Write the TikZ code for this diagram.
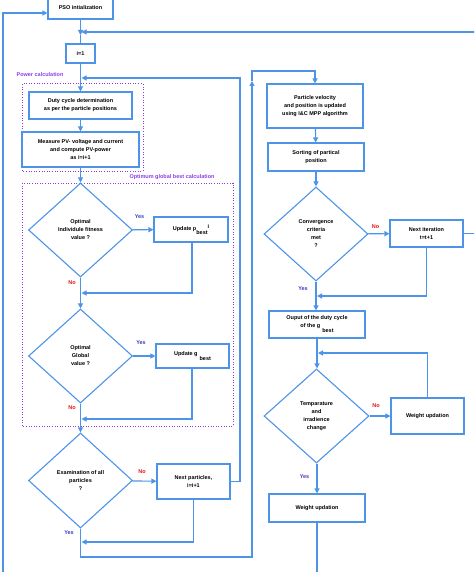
\documentclass[tikz,border=0pt]{standalone}
\usepackage{fontspec}
\setmainfont{Liberation Sans}
\usetikzlibrary{arrows.meta,shapes.geometric}
\definecolor{lb}{RGB}{77,148,232}
\definecolor{pur}{RGB}{140,60,230}
\definecolor{yb}{RGB}{60,60,200}
\definecolor{nr}{RGB}{230,20,20}
\tikzset{
 txt/.style={font=\fontsize{5.5}{8}\selectfont\bfseries},
 box/.style={txt,draw=lb,line width=1.1pt,rectangle,inner sep=1pt,align=center},
 dia/.style={txt,draw=lb,line width=1.1pt,diamond,inner sep=0pt,align=center,minimum width=104pt,minimum height=94pt},
 conn/.style={draw=lb,line width=1.1pt},
 arr/.style={conn,-{Triangle[length=5pt,width=5pt]}},
 grp/.style={draw=pur,line width=1pt,dash pattern=on 1pt off 1.6pt},
 yeslab/.style={txt,text=yb},
 nolab/.style={txt,text=nr},
 grplab/.style={txt,text=pur}
}
\begin{document}
\begin{tikzpicture}[x=1pt,y=-1pt]
\useasboundingbox (0,0) rectangle (474,572);
\clip (0,0) rectangle (474,572);

% group frames
\draw[grp] (22,84) rectangle (143,171);
\draw[grp] (22,183) rectangle (233,426);
\node[grplab] (lpow) at (40,75) {Power calculation};
\node[grplab] (lopt) at (172,177) {Optimum global best calculation};

% left column
\node[box,minimum width=65pt,minimum height=22pt] (pso) at (80.5,8) {PSO intialization};
\node[box,minimum width=29pt,minimum height=19pt] (i1) at (80.5,53.5) {i=1};
\node[box,minimum width=103pt,minimum height=27pt] (duty) at (80.5,105.5) {Duty cycle determination\\as per the particle positions};
\node[box,minimum width=117pt,minimum height=35pt] (meas) at (80.5,149.5) {Measure PV- voltage and current\\and compute PV-power\\as i=i+1};
\node[dia] (d1) at (80.5,230) {Optimal\\Individule fitness\\value ?};
\node[box,minimum width=74pt,minimum height=25pt] (up) at (191,229.5) {Update p\raisebox{-4pt}{best}\raisebox{1.5pt}{i}};
\node[dia] (d2) at (80.5,356) {Optimal\\Global\\value ?};
\node[box,minimum width=73pt,minimum height=24pt] (ug) at (192.5,356) {Update g\hspace{2pt}\raisebox{-5pt}{best}};
\node[dia,minimum height=95pt] (d3) at (80.5,480.5) {Examination of all\\particles\\?};
\node[box,minimum width=73pt,minimum height=35pt] (np) at (193.5,481.5) {Next particles,\\i=i+1};

% right column
\node[box,minimum width=96pt,minimum height=44pt] (pv) at (315,106) {Particle velocity\\and position is updated\\using I\&C MPP algorithm};
\node[box,minimum width=96pt,minimum height=28pt] (sort) at (316,157) {Sorting of partical\\position};
\node[dia] (conv) at (316,234) {Convergence\\criteria\\met\\?};
\node[box,minimum width=73pt,minimum height=27pt] (ni) at (426.5,233.5) {Next iteration\\t=t+1};
\node[box,minimum width=96pt,minimum height=27pt] (out) at (317,324.5) {Ouput of the duty cycle\\of the g\hspace{2pt}\raisebox{-5pt}{best}};
\node[dia,minimum width=105pt] (temp) at (316.5,416) {Temparature\\and\\irradience\\change};
\node[box,minimum width=73pt,minimum height=36pt] (wr) at (427.5,416) {Weight updation};
\node[box,minimum width=96pt,minimum height=28pt] (wb) at (317,508) {Weight updation};

% branch labels
\node[yeslab] (y1) at (139.5,217) {Yes};
\node[nolab] (n1) at (72,283) {No};
\node[yeslab] (y2) at (141,343) {Yes};
\node[nolab] (n2) at (72,408) {No};
\node[nolab] (n3) at (142,472) {No};
\node[yeslab] (y3) at (69,533) {Yes};
\node[nolab] (n4) at (375.5,227) {No};
\node[yeslab] (y4) at (303,289) {Yes};
\node[nolab] (n5) at (376,406) {No};
\node[yeslab] (y5) at (304.5,477) {Yes};

% coordinates
\coordinate (m1) at (80.5,35);
\coordinate (m0) at (81.5,32);
\coordinate (lt) at (3,13);
\coordinate (lb0) at (3,580);
\coordinate (rt1) at (480,32);
\coordinate (rt2) at (480,233.5);
\coordinate (jp) at (81.5,293);
\coordinate (jg) at (81.5,419);
\coordinate (jn) at (81.5,542);
\coordinate (ys) at (80.5,557);
\coordinate (up1) at (252,81);
\coordinate (up2) at (252,71);
\coordinate (nr1) at (240,78);
\coordinate (nr2) at (81.5,78);
\coordinate (jc) at (317,296);
\coordinate (jt) at (318,353);
\coordinate (bot) at (317,580);

% connectors
\draw[arr] (lb0) -- (lt) -- (pso.west |- lt);
\draw[arr] (pso) -- (m1);
\draw[conn] (m1) -- (i1);
\draw[arr] (rt1) -- (m0);
\draw[arr] (i1) -- (duty);
\draw[arr] (np.east) -| (nr1) -- (nr2);
\draw[arr] (duty) -- (meas);
\draw[arr] (meas) -- (d1);
\draw[arr] (d1) -- (up);
\draw[arr] (d1) -- (d2);
\draw[arr] (up.south -| 192,0) |- (jp);
\draw[arr] (d2) -- (ug);
\draw[arr] (d2) -- (d3);
\draw[arr] (ug.south -| 192,0) |- (jg);
\draw[arr] (d3) -- (np);
\draw[arr] (np.south) |- (jn);
\draw[arr] (d3.south) |- (up1 |- ys) -- (up1);
\draw[arr] (up1) -- (up2) -| (pv.north);
\draw[arr] (pv) -- (sort);
\draw[arr] (sort) -- (conv);
\draw[arr] (conv) -- (ni);
\draw[arr] (conv) -- (out.north -| conv);
\draw[arr] (ni.south) |- (jc);
\draw[conn] (ni.east) -- (rt2);
\draw[arr] (out.south) -- (temp.north -| out.south);
\draw[arr] (wr.north) |- (jt);
\draw[arr] (temp) -- (wr);
\draw[arr] (temp.south -| wb.north) -- (wb.north);
\draw[conn] (wb.south) -- (bot);
\end{tikzpicture}
\end{document}
